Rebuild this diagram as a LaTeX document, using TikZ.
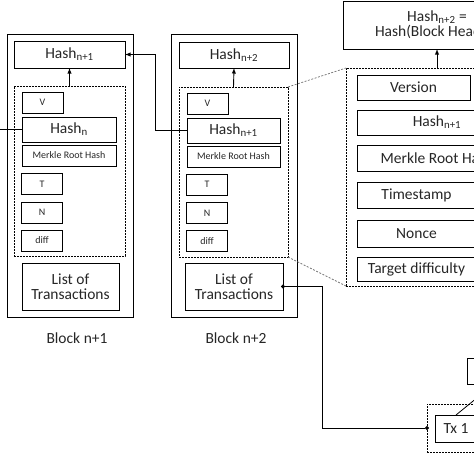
\documentclass[tikz,border=0pt]{standalone}
\usepackage{fontspec}
\setmainfont{Carlito}
\usepackage{tikz}
\usetikzlibrary{arrows.meta}

\begin{document}
\begin{tikzpicture}[x=1pt,y=-1pt,>=latex,
  box/.style={draw,line width=0.9pt,inner sep=0pt,outer sep=0pt,text=black!85},
  big/.style={box,font=\fontsize{15.5}{15}\selectfont},
  small/.style={box,font=\fontsize{10}{11}\selectfont},
  hdr/.style={draw,line width=0.8pt,dash pattern=on 2pt off 1pt,inner sep=0pt,outer sep=0pt},
  zoomline/.style={black!55,line width=0.7pt,dash pattern=on 2pt off 1.5pt}]
\useasboundingbox (0,0) rectangle (474,474);
\clip (0,0) rectangle (474,474);

% block n+1
\node[box,minimum width=126,minimum height=283] (b1) at (70,175.5) {};
\node[hdr,minimum width=111,minimum height=170] (dash1) at (69.5,171) {};
\node[big,minimum width=111,minimum height=27] (hash1) at (69.5,54.5) {Hash\textsubscript{n+1}};
\begin{scope}[every node/.style={small,minimum width=41,minimum height=21}]
    \node (v1) at (42.5,102.5) {V};
    \node (t1) at (42,184) {T};
    \node (n1) at (42,212.5) {N};
    \node (d1) at (42,240.5) {diff};
\end{scope}
\node[big,minimum width=94,minimum height=25] (hp1) at (69,129.5) {Hash\textsubscript{n}};
\node[small,minimum width=94,minimum height=21] (m1) at (69,155.5) {Merkle Root Hash};
\node[big,align=center,minimum width=97,minimum height=47] (l1) at (70.5,286.5) {List of\\Transactions};
\node[font=\fontsize{15.5}{16}\selectfont,text=black!85] (lab1) at (77,338) {Block n+1};

% block n+2
\node[box,minimum width=126,minimum height=283] (b2) at (234,175.5) {};
\node[hdr,minimum width=109,minimum height=170] (dash2) at (233.5,172) {};
\node[big,minimum width=110,minimum height=26] (hash2) at (234,55) {Hash\textsubscript{n+2}};
\begin{scope}[every node/.style={small,minimum width=41,minimum height=21}]
    \node (v2) at (207.5,103.5) {V};
    \node (t2) at (207,184.5) {T};
    \node (n2) at (207,213) {N};
    \node (d2) at (207,241) {diff};
\end{scope}
\node[big,minimum width=93,minimum height=25] (hp2) at (233.5,130.5) {Hash\textsubscript{n+1}};
\node[small,minimum width=93,minimum height=21] (m2) at (233.5,156.5) {Merkle Root Hash};
\node[big,align=center,minimum width=98,minimum height=47] (l2) at (234,286.5) {List of\\Transactions};
\node[font=\fontsize{15.5}{16}\selectfont,text=black!85] (lab2) at (236,338) {Block n+2};

% block header in detail
\node[big,align=center,minimum width=188,minimum height=48] (top) at (437,25) {Hash\textsubscript{n+2} =\\Hash(Block Header)};
\node[hdr,minimum width=194,minimum height=218] (dashD) at (443,177) {};
\node[big,minimum width=113,minimum height=25] (ver) at (413.5,87.5) {Version};
\node[big,minimum width=160,minimum height=25] (hsh) at (437,122.5) {Hash\textsubscript{n+1}};
\node[big,minimum width=160,minimum height=26] (mrk) at (437,158) {Merkle Root Hash};
\node[big,minimum width=119,minimum height=26] (tim) at (416.5,195) {Timestamp};
\node[big,minimum width=119,minimum height=27] (non) at (416.5,233.5) {Nonce};
\node[big,minimum width=119,minimum height=24] (tgt) at (416.5,269) {Target difficulty};

% transactions
\node[hdr,minimum width=113,minimum height=48] (txd) at (483.5,428) {};
\node[big,minimum width=42,minimum height=27] (tx1) at (456,428.5) {Tx 1};
\node[box,minimum width=54,minimum height=26] (up) at (494,371) {};
\coordinate (prev) at (0,129.5);

\draw[line width=0.9pt] (prev) -- (hp1.west);
\draw[->,line width=0.9pt] (dash1.north) -- (hash1.south);
\draw[->,line width=0.9pt] (dash2.north) -- (hash2.south);
\draw[->,line width=0.9pt] (hp2.west) -- ++(-32,0) |- (hash1.east);
\draw[->,line width=0.9pt] (dashD.north -| top.south) -- (top.south);
\draw[zoomline] (dash2.north east) -- (dashD.north west);
\draw[zoomline] (dash2.south east) -- (dashD.south west);
\draw[{Circle[length=4pt]}-{Circle[length=4pt]},line width=0.8pt,shorten <=-2pt,shorten >=-2pt] (l2.east) -- (322,286.5) |- (txd.west);
\draw[line width=0.8pt] (tx1.north) -- (up.south);
\end{tikzpicture}
\end{document}
